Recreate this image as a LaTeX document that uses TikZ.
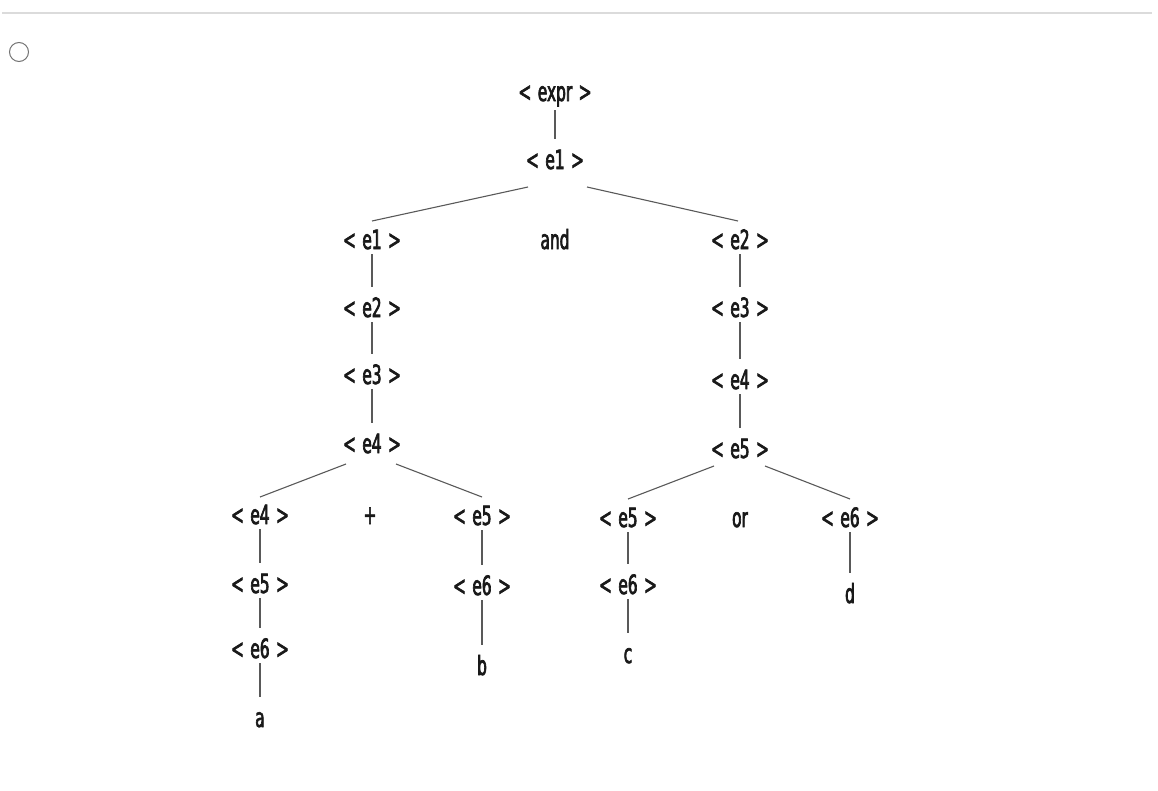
\documentclass[tikz,border=0pt]{standalone}
\usepackage{fontspec}
\setmainfont{DejaVu Sans}[FakeStretch=0.58,FakeBold=2.5]
\newcommand\nt[1]{<\hspace{6.5pt}#1\hspace{6.5pt}>}
\begin{document}
\begin{tikzpicture}[x=1pt,y=-1pt,
  lbl/.style={anchor=base,inner sep=0pt,text=black!90,font=\fontsize{26.5}{28}\selectfont},
  edge/.style={draw=black!65,line width=1.1pt}]
\useasboundingbox (0,0) rectangle (1158,790);
% header
\draw[black!14,line width=2pt] (2,13) -- (1152,13);
\draw[black!55,line width=1pt] (19,52) circle (9.5);
% nodes
\node[lbl] (expr) at (555,101) {\nt{expr}};
\node[lbl] (e1) at (555,169) {\nt{e1}};
\node[lbl] (L1) at (372,249) {\nt{e1}};
\node[lbl] (and) at (555,249) {and};
\node[lbl] (R2) at (740,249) {\nt{e2}};
\node[lbl] (L2) at (372,317) {\nt{e2}};
\node[lbl] (L3) at (372,384) {\nt{e3}};
\node[lbl] (L4) at (372,453) {\nt{e4}};
\node[lbl] (R3) at (740,317) {\nt{e3}};
\node[lbl] (R4) at (740,389) {\nt{e4}};
\node[lbl] (R5) at (740,458) {\nt{e5}};
\node[lbl] (LL4) at (260,524) {\nt{e4}};
\node[lbl] (plus) at (370,524) {+};
\node[lbl] (LR5) at (482,525) {\nt{e5}};
\node[lbl] (LL5) at (260,593) {\nt{e5}};
\node[lbl] (LL6) at (260,658) {\nt{e6}};
\node[lbl] (a) at (260,727) {a};
\node[lbl] (LR6) at (482,595) {\nt{e6}};
\node[lbl] (b) at (482,675) {b};
\node[lbl] (RL5) at (628,527) {\nt{e5}};
\node[lbl] (or) at (740,527) {or};
\node[lbl] (RR6) at (850,527) {\nt{e6}};
\node[lbl] (RL6) at (628,594) {\nt{e6}};
\node[lbl] (c) at (628,663) {c};
\node[lbl] (d) at (850,603) {d};
% vertical edges
\draw[edge] ([yshift=-9pt]expr.base) -- ([yshift=30pt]e1.base);
\foreach \p/\c in {L1/L2,L2/L3,L3/L4,R2/R3,R3/R4,R4/R5,LL4/LL5,LL5/LL6,LL6/a,LR5/LR6,LR6/b,RL5/RL6,RL6/c,RR6/d}
  \draw[edge] ([yshift=-5pt]\p.base) -- ([yshift=30pt]\c.base);
% diagonal edges
\draw[edge] ([shift={(-27pt,-18pt)}]e1.base) -- ([yshift=28pt]L1.base);
\draw[edge] ([shift={(32pt,-18pt)}]e1.base) -- ([shift={(-2pt,28pt)}]R2.base);
\draw[edge] ([shift={(-26pt,-11pt)}]L4.base) -- ([yshift=27pt]LL4.base);
\draw[edge] ([shift={(24pt,-11pt)}]L4.base) -- ([yshift=28pt]LR5.base);
\draw[edge] ([shift={(-26pt,-8pt)}]R5.base) -- ([yshift=28pt]RL5.base);
\draw[edge] ([shift={(25pt,-8pt)}]R5.base) -- ([yshift=28pt]RR6.base);
\end{tikzpicture}
\end{document}
